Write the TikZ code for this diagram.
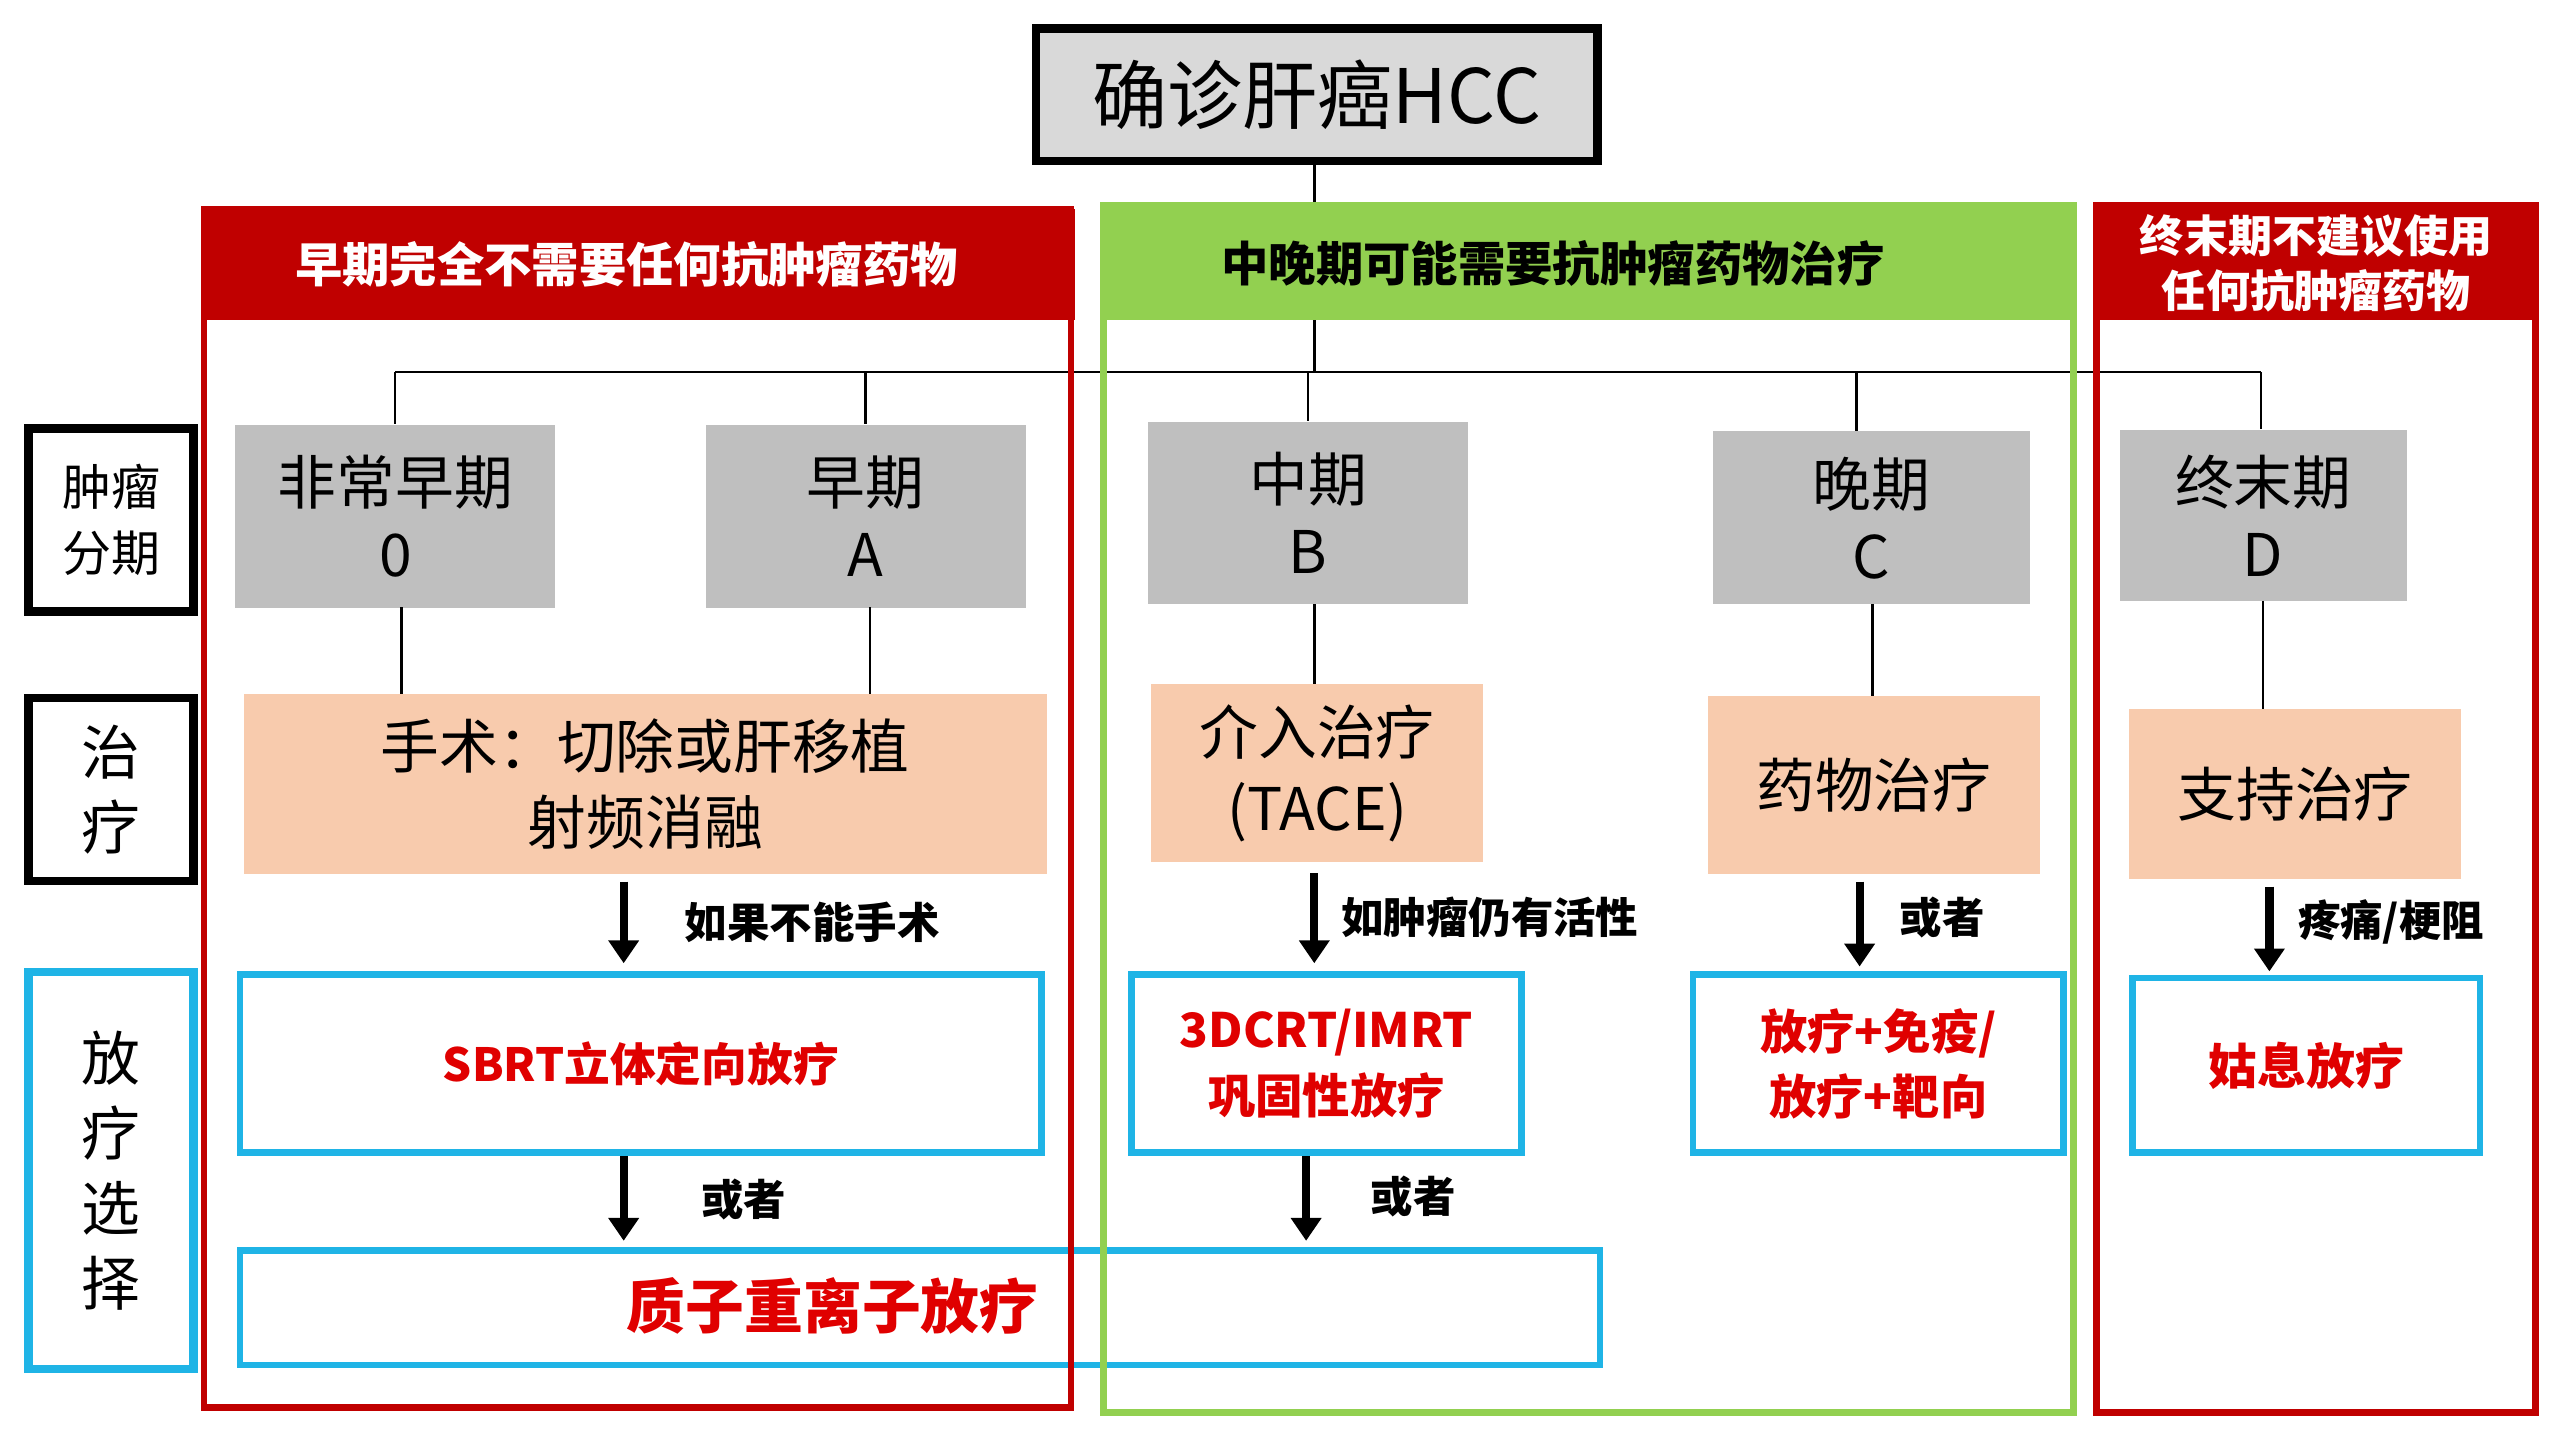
\documentclass[tikz,border=0pt]{standalone}
\usepackage{fontspec}
\setmainfont{Noto Sans CJK SC}
\usetikzlibrary{arrows.meta}
\definecolor{hred}{HTML}{C00000}
\definecolor{hgreen}{HTML}{92D050}
\definecolor{hblue}{HTML}{1FB4E6}
\definecolor{hgray}{HTML}{BFBFBF}
\definecolor{horange}{HTML}{F8CBAD}
\definecolor{tred}{HTML}{E00000}
\tikzset{
 bx/.style 2 args={minimum width=#1pt,minimum height=#2pt,inner sep=0pt,align=center,anchor=north west},
 graybox/.style={fill=hgray,font=\fontsize{36}{44}\selectfont},
 orbox/.style={fill=horange,font=\fontsize{36}{46}\selectfont},
 bluebox/.style={draw=hblue,line width=4pt,fill=white,text=tred,font=\bfseries\fontsize{28}{38}\selectfont},
 sidebox/.style={draw=black,line width=5pt,font=\fontsize{30}{40}\selectfont},
 conn/.style={line width=1.5pt},
 arr/.style={line width=5pt,-{Triangle[length=14pt,width=18pt]}},
 alab/.style={font=\bfseries\fontsize{26}{30}\selectfont,anchor=west},
}
\begin{document}
\begin{tikzpicture}[x=1pt,y=-1pt]
\useasboundingbox (0,0) rectangle (1568,880);
\fill[white] (0,0) rectangle (1568,880);
% top
\node[bx={344}{81},fill=hgray!60,draw=black,line width=5pt,font=\fontsize{46}{50}\selectfont] (top) at (632,15) {确诊肝癌HCC};
% connectors top
\coordinate (j) at (805,228);
\coordinate (jl) at (242,228);
\coordinate (jr) at (1385,228);
\draw[conn] (top.south -| j) -- (j);
% headers
\node[bx={533}{68},fill=hred,text=white,font=\bfseries\fontsize{29}{34}\selectfont] (h1) at (125,128) {早期完全不需要任何抗肿瘤药物\hspace*{16pt}};
\node[bx={594}{70},fill=hgreen,font=\bfseries\fontsize{29}{34}\selectfont] (h2) at (676,126) {中晚期可能需要抗肿瘤药物治疗\hspace*{44pt}};
\node[bx={269}{70},fill=hred,text=white,font=\bfseries\fontsize{27}{34}\selectfont] (h3) at (1284,126) {终末期不建议使用\\任何抗肿瘤药物};
% side labels
\node[bx={101}{112},sidebox] (s1) at (15,260) {肿瘤\\分期};
\node[bx={101}{112},sidebox,font=\fontsize{36}{46}\selectfont] (s2) at (15,425) {治\\疗};
\node[bx={101}{243},sidebox,draw=hblue,font=\fontsize{36}{46}\selectfont] (s3) at (15,593) {放\\疗\\选\\择};
% gray boxes
\node[bx={196}{112},graybox] (g0) at (144,260) {非常早期\\0};
\node[bx={196}{112},graybox] (gA) at (432,260) {早期\\A};
\node[bx={196}{112},graybox] (gB) at (703,258) {中期\\B};
\node[bx={194}{106},graybox] (gC) at (1049,264) {晚期\\C};
\node[bx={176}{105},graybox] (gD) at (1298,263) {终末期\\D};
\draw[conn] (jl) -- (jr);
\draw[conn] (jl) -- (g0.north -| jl);
\draw[conn] (gA.north |- j) -- (gA.north);
\draw[conn] (gB.north |- j) -- (gB.north);
\draw[conn] (1137,228) -- (gC.north -| 1137,0);
\draw[conn] (jr) -- (gD.north -| jr);
% orange
\node[bx={492}{110},orbox] (o1) at (149,425) {手术：切除或肝移植\\射频消融};
\node[bx={203}{109},orbox] (o2) at (705,419) {介入治疗\\(TACE)};
\node[bx={203}{109},orbox] (o3) at (1046,426) {药物治疗};
\node[bx={203}{104},orbox] (o4) at (1304,434) {支持治疗};
\draw[conn] (246,372) -- (246,425);
\draw[conn] (533,372) -- (533,425);
\draw[conn] (805,370) -- (805,419);
\draw[conn] (1147,370) -- (1147,426);
\draw[conn] (1386,368) -- (1386,434);
% blue boxes
\node[bx={491}{109},bluebox] (b1) at (145,595) {SBRT立体定向放疗};
\node[bx={239}{109},bluebox,font=\bfseries\fontsize{29}{40}\selectfont] (b2) at (691,595) {3DCRT/IMRT\\巩固性放疗};
\node[bx={227}{109},bluebox,font=\bfseries\fontsize{29}{40}\selectfont] (b3) at (1035,595) {放疗+免疫/\\放疗+靶向};
\node[bx={213}{107},bluebox,font=\bfseries\fontsize{30}{40}\selectfont] (b4) at (1304,597) {姑息放疗};
\node[bx={833}{70},bluebox] (b5) at (145,764) {};
\node[text=tred,font=\bfseries\fontsize{36}{40}\selectfont] (b5t) at (510,800) {质子重离子放疗};
% arrows
\draw[arr] (382,540) -- (382,590);
\node[alab] (l1) at (416,565) {如果不能手术};
\draw[arr] (805,535) -- (805,590);
\node[alab] (l2) at (818,562) {如肿瘤仍有活性};
\draw[arr] (1139,540) -- (1139,592);
\node[alab] (l3) at (1160,562) {或者};
\draw[arr] (1390,543) -- (1390,595);
\node[alab] (l4) at (1404,565) {疼痛/梗阻};
\draw[arr] (382,708) -- (382,760);
\node[alab] (l5) at (426,735) {或者};
\draw[arr] (800,708) -- (800,760);
\node[alab] (l6) at (836,733) {或者};
% frames
\draw[hred,line width=4pt] (125,128) rectangle (656,862);
\draw[hgreen,line width=4pt] (676,126) rectangle (1270,865);
\draw[hred,line width=4pt] (1284,126) rectangle (1553,865);
\end{tikzpicture}
\end{document}
